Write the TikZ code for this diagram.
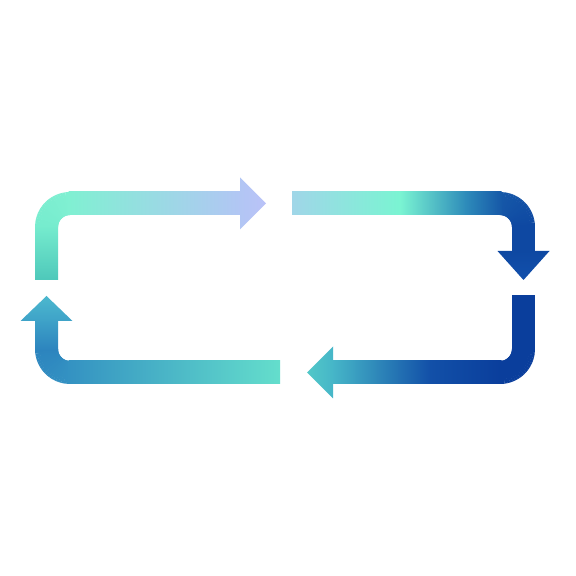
\documentclass[tikz,border=0pt]{standalone}
\definecolor{tlA}{RGB}{78,200,186}
\definecolor{tlB}{RGB}{118,236,206}
\definecolor{tlC}{RGB}{128,240,210}
\definecolor{tlD}{RGB}{178,198,244}
\definecolor{tlH}{RGB}{186,194,248}
\definecolor{trA}{RGB}{160,214,232}
\definecolor{trB}{RGB}{122,244,210}
\definecolor{trC}{RGB}{46,140,186}
\definecolor{trD}{RGB}{22,88,168}
\definecolor{trE}{RGB}{14,72,162}
\definecolor{trH}{RGB}{18,80,172}
\definecolor{brA}{RGB}{10,62,156}
\definecolor{brB}{RGB}{18,80,168}
\definecolor{brC}{RGB}{70,182,200}
\definecolor{brH}{RGB}{82,200,200}
\definecolor{blA}{RGB}{100,222,204}
\definecolor{blB}{RGB}{52,146,194}
\definecolor{blC}{RGB}{44,132,190}
\definecolor{blD}{RGB}{62,162,200}
\definecolor{blH}{RGB}{76,184,206}
\newcommand\gradcorner[6]{%
  \foreach \k in {0,...,19}{%
    \pgfmathsetmacro\aa{#3+(#4-#3)*\k/20}%
    \pgfmathsetmacro\ab{#3+(#4-#3)*min(\k+1.5,20)/20}%
    \pgfmathtruncatemacro\pp{100*(\k+0.5)/20}%
    \draw[line width=23pt, draw=#6!\pp!#5] (#1,#2) ++(\aa:23.5) arc[start angle=\aa, end angle=\ab, radius=23.5];
  }}
\begin{document}
\begin{tikzpicture}[x=1pt,y=1pt]
\useasboundingbox (0,0) rectangle (576,576);
\fill[white] (0,0) rectangle (576,576);
% top-left arrow
\gradcorner{70}{349}{180}{90}{tlB}{tlC}
\shade[bottom color=tlA, top color=tlB] (35,296) rectangle (58,350.5);
\shade[left color=tlC, right color=tlD] (68.5,361) rectangle (240.5,384);
\shade[left color=tlD, right color=tlH] (240,346.5) -- (266,372.5) -- (240,398.5) -- cycle;
% top-right arrow
\shade[left color=trA, right color=trB] (292,361) rectangle (400.5,384);
\shade[left color=trB, right color=trC] (400,361) rectangle (465.5,384);
\gradcorner{500}{349}{90}{0}{trD}{trE}
\shade[left color=trC, right color=trD] (465,361) rectangle (501.5,384);
\fill[trE] (512,324.5) rectangle (535,350.5);
\shade[top color=trE, bottom color=trH] (497.5,325) -- (549.5,325) -- (523.5,296) -- cycle;
% bottom-right arrow
\gradcorner{500}{227}{0}{-90}{brA}{brA}
\fill[brA] (512,225.5) rectangle (535,281);
\shade[left color=brB, right color=brA] (429.5,192) rectangle (501.5,215);
\shade[left color=brC, right color=brB] (332.5,192) rectangle (430,215);
\shade[left color=brH, right color=brC] (333,177.5) -- (307,203.5) -- (333,229.5) -- cycle;
% bottom-left arrow
\gradcorner{70}{227}{270}{180}{blB}{blC}
\shade[left color=blB, right color=blA] (68.5,192) rectangle (280,215);
\shade[bottom color=blC, top color=blD] (35,225.5) rectangle (58,255.5);
\shade[bottom color=blD, top color=blH] (20.5,255) -- (72.5,255) -- (46.5,280) -- cycle;
\end{tikzpicture}
\end{document}
